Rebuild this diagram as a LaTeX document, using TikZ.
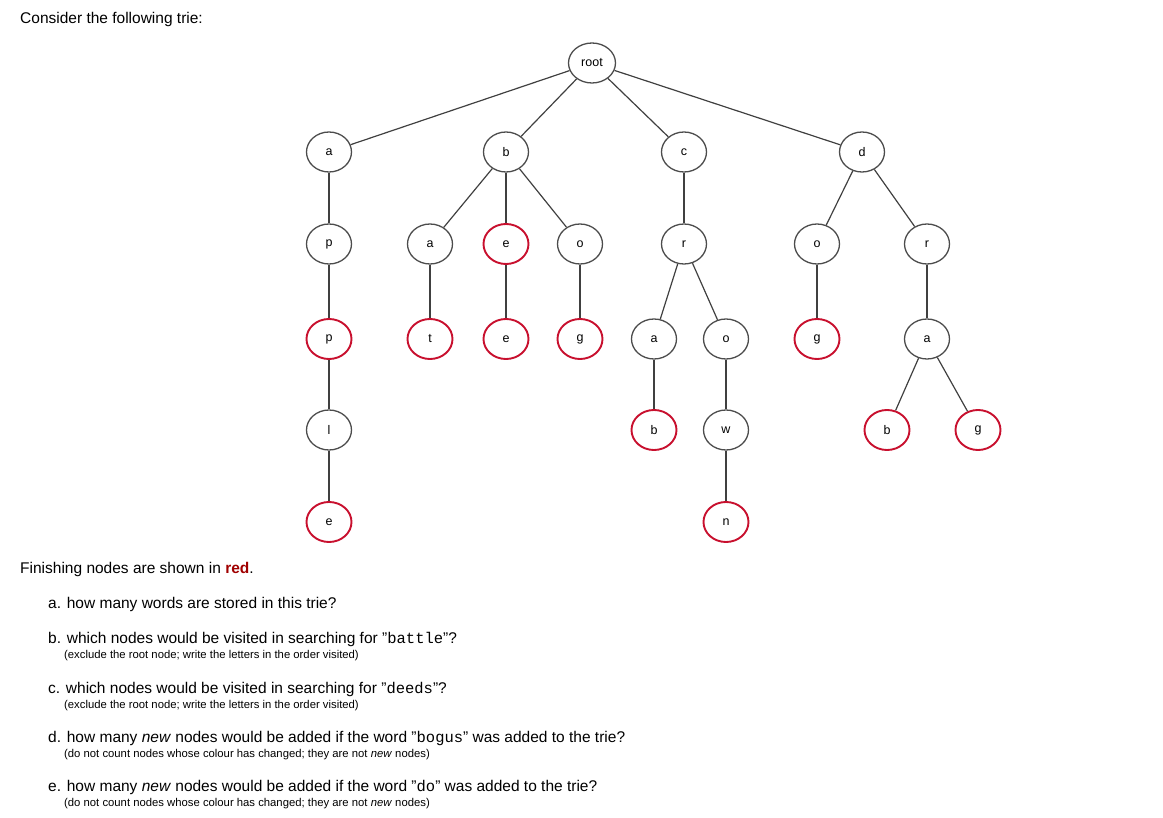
\documentclass[tikz,border=0pt]{standalone}
\usepackage{fontspec}
\setmainfont{Liberation Sans}
\setmonofont{Liberation Mono}
\usetikzlibrary{shapes.geometric}
\definecolor{fin}{HTML}{C8102E}
\definecolor{redtxt}{HTML}{A00000}
\newcommand{\qq}{{\char34}}
\begin{document}
\begin{tikzpicture}[x=1pt,y=-1pt,
  tn/.style={ellipse,draw=black!70,line width=1.3pt,minimum width=45pt,minimum height=40pt,inner sep=0pt,font=\fontsize{12.5}{13}\selectfont},
  fn/.style={tn,draw=fin,line width=1.9pt},
  edge/.style={draw=black!75,line width=1.2pt},
  big/.style={anchor=base west,inner sep=0pt,font=\fontsize{15.5}{17}\selectfont},
  small/.style={anchor=base west,inner sep=0pt,font=\fontsize{11.3}{12}\selectfont}]
\useasboundingbox (0,0) rectangle (1163,818);
\node[tn,minimum width=47pt] (root) at (592,63) {root};
\node[tn] (a) at (329,152) {a};
\node[tn] (b) at (506,152) {b};
\node[tn] (c) at (684,152) {c};
\node[tn] (d) at (862,152) {d};
\node[tn] (ap) at (329,244) {p};
\node[tn] (ba) at (430,244) {a};
\node[fn] (be) at (506,244) {e};
\node[tn] (bo) at (580,244) {o};
\node[tn] (cr) at (684,244) {r};
\node[tn] (do) at (817,244) {o};
\node[tn] (dr) at (927,244) {r};
\node[fn] (app) at (329,339) {p};
\node[fn] (bat) at (430,339) {t};
\node[fn] (bee) at (506,339) {e};
\node[fn] (bog) at (580,339) {g};
\node[tn] (cra) at (654,339) {a};
\node[tn] (cro) at (726,339) {o};
\node[fn] (dog) at (817,339) {g};
\node[tn] (dra) at (927,339) {a};
\node[tn] (appl) at (329,430) {l};
\node[fn] (crab) at (654,430) {b};
\node[tn] (crow) at (726,430) {w};
\node[fn] (drab) at (887,430) {b};
\node[fn] (drag) at (978,430) {g};
\node[fn] (apple) at (329,522) {e};
\node[fn] (crown) at (726,522) {n};
\foreach \u/\v in {root/a,root/b,root/c,root/d,a/ap,b/ba,b/be,b/bo,c/cr,d/do,d/dr,
  ap/app,ba/bat,be/bee,bo/bog,cr/cra,cr/cro,do/dog,dr/dra,app/appl,cra/crab,cro/crow,
  dra/drab,dra/drag,appl/apple,crow/crown}
  \draw[edge] (\u) -- (\v);
\node[big] (t0) at (20,24) {Consider the following trie:};
\node[big] (t1) at (20,573) {Finishing nodes are shown in \textcolor{redtxt}{\textbf{red}}.};
\node[big] (qa) at (48,608) {a. how many words are stored in this trie?};
\node[big] (qb) at (48,643) {b. which nodes would be visited in searching for \qq\texttt{battle}\qq?};
\node[small] (qb2) at (64,658) {(exclude the root node; write the letters in the order visited)};
\node[big] (qc) at (48,693) {c. which nodes would be visited in searching for \qq\texttt{deeds}\qq?};
\node[small] (qc2) at (64,708) {(exclude the root node; write the letters in the order visited)};
\node[big] (qd) at (48,742) {d. how many \textit{new} nodes would be added if the word \qq\texttt{bogus}\qq{} was added to the trie?};
\node[small] (qd2) at (64,757) {(do not count nodes whose colour has changed; they are not \textit{new} nodes)};
\node[big] (qe) at (48,791) {e. how many \textit{new} nodes would be added if the word \qq\texttt{do}\qq{} was added to the trie?};
\node[small] (qe2) at (64,806) {(do not count nodes whose colour has changed; they are not \textit{new} nodes)};
\end{tikzpicture}
\end{document}
